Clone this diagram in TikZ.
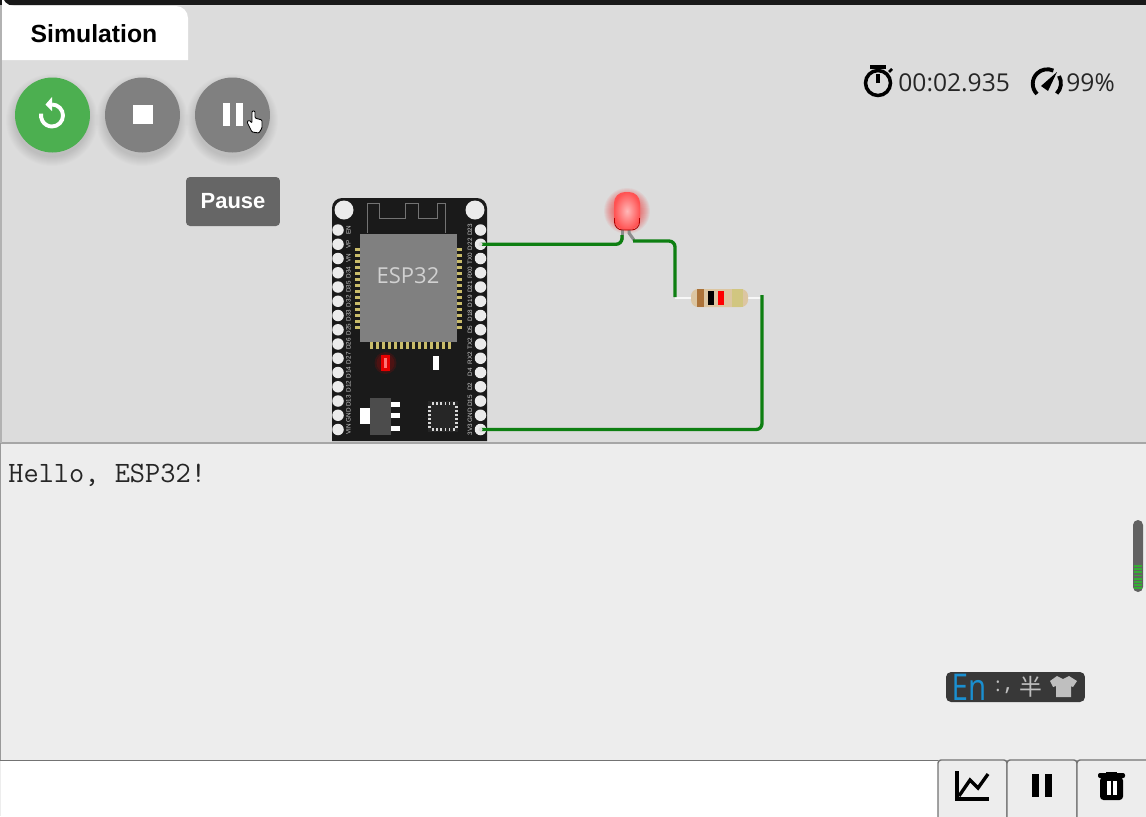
\documentclass[tikz,border=0pt]{standalone}
\usepackage{fontspec}
\setmainfont{Liberation Sans}
\newfontfamily\opensans{Open Sans}
\newfontfamily\cjk{Noto Sans CJK SC}
\usetikzlibrary{arrows.meta}
\definecolor{panelgray}{HTML}{DCDCDC}
\definecolor{consolegray}{HTML}{EDEDED}
\definecolor{btngray}{HTML}{808080}
\definecolor{btngreen}{HTML}{4CAF50}
\definecolor{wiregreen}{HTML}{0E7F12}
\definecolor{boardblack}{HTML}{1A1A1A}
\definecolor{padgold}{HTML}{C9BC6A}
\definecolor{imeblue}{HTML}{1A8FD0}
\definecolor{restan}{HTML}{DCC6A2}
\tikzset{
  fs/.style={font=\fontsize{#1}{#1}\selectfont},
  roundbtn/.style={circle,fill=#1,minimum size=1.5cm,inner sep=0pt},
  wire/.style={wiregreen,line width=1.9pt,rounded corners=0.12cm},
  pinhole/.style={circle,fill=white!92!black,minimum size=0.23cm,inner sep=0pt},
  pinlabel/.style={fs=3.6,text=white!80!black,rotate=90,inner sep=0pt},
  toolbtn/.style={draw=black!55,fill=consolegray,line width=0.8pt,rounded corners=0.06cm},
}
\begin{document}
\begin{tikzpicture}[x=0.02cm,y=-0.02cm]
  \useasboundingbox (0,0) rectangle (1146,816);
  \def\pinstep{14.25}

  % panels
  \fill[panelgray] (0,0) rectangle (1146,443);
  \fill[consolegray] (0,443) rectangle (1146,816);
  \fill[black!90] (0,0) rectangle (1146,5);
  \draw[black!35,line width=0.8pt] (0,443) -- (1146,443);
  \draw[black!40,line width=1pt] (0.5,443) -- (0.5,760);
  \fill[black!30] (0,5) rectangle (2,443);

  % tab
  \fill[white] (2,60) -- (2,6) [rounded corners=0.24cm] -- (2,6) -- (188,6) [sharp corners] -- (188,60) -- cycle;
  \node[fs=14.1,text=black] (simtab) at (94,34) {\bfseries Simulation};

  % buttons
  \foreach \bx in {52,142,232}{
    \foreach \sr in {37,38,...,46}
      \fill[black,opacity=0.011] (\bx,120) circle (\sr*0.02cm);
  }
  \node[roundbtn=btngreen] (restartbtn) at (52.5,115) {};
  \node[roundbtn=btngray] (stopbtn) at (142.5,115) {};
  \node[roundbtn=btngray] (pausebtn) at (232.5,115) {};
  \draw[white,line width=2.2pt] (52,104.5) arc (90:-190:0.22cm);
  \fill[white] (45.5,104.5) -- (52,97) -- (52,111) -- cycle;
  \fill[white] (133,105) rectangle (153,124);
  \fill[white] (223,103) rectangle (230,126);
  \fill[white] (236,103) rectangle (243,126);

  % hand cursor
  \draw[black,fill=white,line width=0.5pt,rounded corners=0.02cm] (252,132) -- (247,122) -- (249,120) -- (252,123) -- (252,111) -- (255,111) -- (255,118) -- (262,120) -- (262,128) -- (259,133) -- cycle;

  % tooltip
  \node[fill=black!60,rounded corners=0.08cm,minimum width=1.88cm,minimum height=0.98cm,text=white,fs=12.5] (pausetip) at (233,201.5) {\bfseries Pause};

  % timer and speed
  \draw[black,line width=2pt] (878,83) circle (0.25cm);
  \draw[black,line width=2pt] (870,67) -- (886,67);
  \draw[black,line width=2pt] (878,83) -- (878,74);
  \draw[black,line width=1.5pt] (889,72) -- (892,69);
  \node[fs=14,text=black!85,anchor=west,inner sep=0pt] (timertext) at (898,83) {\opensans 00:02.935};
  \draw[black,line width=2.2pt] (1037,94) arc (225:65:0.29cm);
  \draw[black,line width=2.2pt] (1059,76) arc (30:-45:0.29cm);
  \fill[black] (1041,86) -- (1057,72) -- (1048,91) -- cycle;
  \node[fs=14,text=black!85,anchor=west,inner sep=0pt] (speedtext) at (1066,83) {\opensans 99\%};

  % board
  \fill[boardblack] (332,441) [rounded corners=0.2cm] -- (332,198) -- (487,198) [sharp corners] -- (487,441) -- cycle;
  \fill[white!92!black] (344,210) circle (0.19cm);
  \fill[white!92!black] (475,210) circle (0.19cm);
  \draw[black!55,line width=0.5pt] (367,233) -- (367,203) -- (379,203) -- (379,218) -- (405,218) -- (405,203) -- (418,203) -- (418,218) -- (437,218) -- (437,203) -- (445,203) -- (445,233);

  % chip
  \foreach \i in {0,...,13}{
    \fill[padgold] (355,{248+6*\i}) rectangle (361,{251+6*\i});
    \fill[padgold] (457,{248+6*\i}) rectangle (462,{251+6*\i});
  }
  \foreach \i in {0,...,13}
    \fill[padgold] ({370+6*\i},342) rectangle ({373+6*\i},349);
  \node[fill=btngray,minimum width=1.94cm,minimum height=2.16cm,inner sep=0pt] (chip) at (408.5,288) {};
  \node[text=black!18,fs=12.5,inner sep=0pt] (chiplabel) at (408,276) {\opensans ESP32};

  % board parts
  \foreach \gr in {11,9}
    \fill[red,opacity=0.12] (385.5,363) circle (\gr*0.02cm);
  \fill[red!90!black] (381,355) rectangle (390,371);
  \fill[white!45!red] (384,358) rectangle (387,368);
  \fill[white] (433,356) rectangle (439,370);
  \fill[black!70] (370,398) rectangle (391,435);
  \fill[white] (360,408) rectangle (370,424);
  \foreach \py in {402,413,426}
    \fill[white] (391,\py) rectangle (400,\py+5);
  \fill[black!85] (428,401) rectangle (458,432);
  \foreach \i in {0,...,5}{
    \fill[white!85!black] ({432+4.2*\i},402) rectangle ({433.6+4.2*\i},404.5);
    \fill[white!85!black] ({432+4.2*\i},428) rectangle ({433.6+4.2*\i},430.5);
    \fill[white!85!black] (428,{406+4*\i}) rectangle (430.5,{407.6+4*\i});
    \fill[white!85!black] (455,{406+4*\i}) rectangle (457.5,{407.6+4*\i});
  }

  % pins
  \foreach \pinname [count=\i from 0] in {EN,VP,VN,D34,D35,D32,D33,D25,D26,D27,D14,D12,D13,GND,VIN}{
    \node[pinhole] (L\pinname) at (338,{230+\pinstep*\i}) {};
    \node[pinlabel] (Ltext\pinname) at (348.5,{230+\pinstep*\i}) {\pinname};
  }
  \foreach \pinname [count=\i from 0] in {D23,D22,TX0,RX0,D21,D19,D18,D5,TX2,RX2,D4,D2,D15,GND,3V3}{
    \node[pinhole] (R\pinname) at (480.5,{230+\pinstep*\i}) {};
    \node[pinlabel] (Rtext\pinname) at (470,{230+\pinstep*\i}) {\pinname};
  }

  % led
  \foreach \gr in {13,14,...,23}
    \fill[red,opacity=0.05] (627,211) circle (\gr*0.02cm);
  \draw[black!45,line width=1.7pt] (622,228) -- (622,240);
  \draw[black!45,line width=1.7pt] (629,228) -- (629,233) -- (634,240);
  \shade[inner color=white!72!red,outer color=red!68!white,rounded corners=0.22cm] (614,192) rectangle (640,230);
  \draw[red!70!black,line width=0.5pt,rounded corners=0.16cm] (614.5,218) -- (614.5,230) -- (639.5,230) -- (639.5,218);
  \coordinate (ledcathode) at (622,235);
  \coordinate (ledanode) at (633,241);

  % resistor
  \coordinate (resleft) at (675,297);
  \coordinate (resright) at (762,295);
  \draw[white!97!black,line width=1.4pt] (675,298) -- (762,298);
  \fill[restan,rounded corners=0.14cm] (691,289) rectangle (748,307);
  \fill[brown!90!black] (697,289) rectangle (704,307);
  \fill[black] (708,291) rectangle (714,305);
  \fill[red] (718,291) rectangle (724,305);
  \fill[padgold!85!white] (732,289) rectangle (743,307);

  % wires
  \draw[wire] (RD22.center) -| (ledcathode);
  \draw[wire] (ledanode) -| (resleft);
  \draw[wire] (R3V3.center) -| (resright);
  \fill[panelgray] (RD22) circle (0.04cm);
  \fill[panelgray] (R3V3) circle (0.04cm);

  % console
  \node[fs=16.8,text=black!85,anchor=west,inner sep=0pt] (consoletext) at (8,475) {\fontspec{Latin Modern Mono}Hello, ESP32!};
  \fill[black!62,rounded corners=0.1cm] (1133,520) rectangle (1143,592);
  \foreach \i in {0,...,7}
    \fill[green!60!black!80!white] (1134,{565+3.2*\i}) rectangle (1142,{566.8+3.2*\i});

  % ime bar
  \node[fill=black!78,rounded corners=0.1cm,minimum width=2.78cm,minimum height=0.6cm] (imebar) at (1015.5,687) {};
  \node[text=imeblue,fs=21,inner sep=0pt,transform shape,xscale=0.8] (imeen) at (969,687) {\opensans En};
  \node[text=white!75!black,fs=11,inner sep=0pt] (imecolon) at (998,686) {\opensans :};
  \node[text=white!75!black,fs=14,inner sep=0pt] (imecomma) at (1008,691) {\opensans ,};
  \node[text=white!75!black,fs=13,inner sep=0pt] (imehalf) at (1031,687) {\cjk 半};
  \fill[white!75!black] (1050,681) -- (1057,676) -- (1063,679) -- (1069,676) -- (1077,681) -- (1073,687) -- (1071,686) -- (1071,697) -- (1056,697) -- (1056,686) -- (1053,687) -- cycle;

  % input row
  \fill[white] (1,761) rectangle (938,816);
  \draw[black!55,line width=0.8pt] (0,760.5) -- (938,760.5);
  \draw[toolbtn] (938,820) -- (938,760) -- (1007,760) -- (1007,820);
  \draw[toolbtn] (1007,820) -- (1007,760) -- (1077,760) -- (1077,820);
  \draw[toolbtn] (1077,820) -- (1077,760) -- (1150,760) -- (1150,820);

  % chart icon
  \draw[black,line width=1.9pt] (957,771) -- (957,799) -- (989,799);
  \draw[black,line width=1.9pt] (959,796) -- (970,780) -- (978,788) -- (988,774);
  % pause icon
  \fill[black] (1032,774) rectangle (1039,797);
  \fill[black] (1045,774) rectangle (1052,797);
  % trash icon
  \fill[black,rounded corners=0.04cm] (1098,773) rectangle (1125,778);
  \fill[black] (1106,771.5) rectangle (1117,775);
  \fill[black,rounded corners=0.07cm] (1100,777) rectangle (1123,800);
  \fill[white] (1107,781) rectangle (1110.5,795);
  \fill[white] (1113,781) rectangle (1116.5,795);
\end{tikzpicture}
\end{document}
